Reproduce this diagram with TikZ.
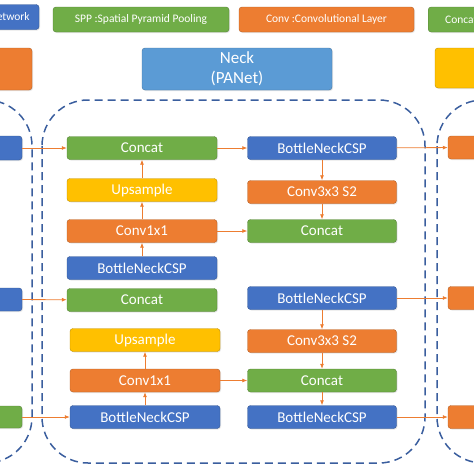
\documentclass[tikz,border=0pt]{standalone}
\usepackage{fontspec}
\setmainfont{Carlito}
\usepackage{tikz}
\usetikzlibrary{arrows.meta,shadows,positioning}
\definecolor{cblue}{HTML}{4472C4}
\definecolor{cgreen}{HTML}{70AD47}
\definecolor{corange}{HTML}{ED7D31}
\definecolor{cyellow}{HTML}{FFC000}
\definecolor{cneck}{HTML}{5B9BD5}
\definecolor{cdash}{HTML}{3A5E9E}
\tikzset{
	box/.style={draw=#1!75!black, fill=#1, rounded corners=3pt, text=white, inner sep=0pt, minimum height=23pt, font=\fontsize{15}{18}\selectfont, drop shadow={opacity=0.2,shadow xshift=1pt,shadow yshift=-1pt}},
	leftbox/.style={box=#1, minimum width=150pt},
	rightbox/.style={box=#1, minimum width=149pt},
	legend/.style={box=#1, minimum height=25pt, font=\fontsize{11.5}{14}\selectfont},
	region/.style={draw=cdash, line width=1.5pt, dash pattern=on 8pt off 5pt, rounded corners=46pt},
	flow/.style={draw=corange, line width=0.8pt, -{Latex[length=5pt,width=4pt]}}
}

\begin{document}
\begin{tikzpicture}[x=1pt,y=-1pt]
		\useasboundingbox (0,0) rectangle (474,474);
		\clip (0,0) rectangle (474,474);
		
		\node[legend=cblue, minimum width=59pt] (lgnet) at (9.5,17) {Network};
		\node[legend=cgreen, minimum width=176pt] (lgspp) at (141,19.5) {SPP :Spatial Pyramid Pooling};
		\node[legend=corange, minimum width=175pt] (lgconv) at (326.5,19.5) {Conv :Convolutional Layer};
		\node[legend=cgreen, anchor=west, text width=80pt, align=left, inner xsep=17pt] (lgcat) at (428,19.5) {Concat};
		
		\node[box=corange, minimum width=62pt, minimum height=42pt] (backbone) at (1,69) {};
		\node[box=cneck, minimum width=190pt, minimum height=42pt, align=center, font=\fontsize{17}{20}\selectfont] (neck) at (237,69) {Neck\\(PANet)};
		\node[box=cyellow, minimum width=65pt, minimum height=40pt] (head) at (467.5,68) {};
		
		\draw[region] (-100,100) rectangle (32,463);
		\draw[region] (42,100) rectangle (425,463);
		\draw[region] (437,100) rectangle (600,463);
		
		\node[box=cblue, minimum width=32pt, minimum height=24pt] (inA) at (6,148) {};
		\node[box=cblue, minimum width=32pt, minimum height=23pt] (inB) at (6,299.5) {};
		\node[box=cgreen, minimum width=32pt, minimum height=22pt] (inC) at (6,417) {};
		
		\node[leftbox=cgreen] (catA) at (142,148) {Concat};
		\node[leftbox=cyellow] (upA) at (142,190) {Upsample};
		\node[leftbox=corange] (convA) at (142,231) {Conv1x1};
		\node[leftbox=cblue] (cspA) at (142,268) {BottleNeckCSP};
		\node[leftbox=cgreen] (catB) at (142,300) {Concat};
		\node[leftbox=cyellow] (upB) at (145,340) {Upsample};
		\node[leftbox=corange] (convB) at (145,380.5) {Conv1x1};
		\node[leftbox=cblue] (cspB) at (145,417) {BottleNeckCSP};
		
		\node[rightbox=cblue] (cspC) at (322,148) {BottleNeckCSP};
		\node[rightbox=corange] (downA) at (322,192) {Conv3x3 S2};
		\node[rightbox=cgreen] (catC) at (322,231) {Concat};
		\node[rightbox=cblue] (cspD) at (322,298) {BottleNeckCSP};
		\node[rightbox=corange] (downB) at (322,341) {Conv3x3 S2};
		\node[rightbox=cgreen] (catD) at (322,380.5) {Concat};
		\node[rightbox=cblue] (cspE) at (322,417) {BottleNeckCSP};
		
		\node[box=corange, minimum width=44pt] (outA) at (470,147.5) {};
		\node[box=corange, minimum width=44pt] (outB) at (470,298) {};
		\node[box=corange, minimum width=44pt] (outC) at (470,417) {};
		
		\draw[flow] (inA) -- (catA);
		\draw[flow] (inB) -- (catB);
		\draw[flow] (inC) -- (cspB);
		
		\draw[flow] (cspA) -- (convA);
		\draw[flow] (convA) -- (upA);
		\draw[flow] (upA) -- (catA);
		\draw[flow] (cspB) -- (convB);
		\draw[flow] (convB) -- (upB);
		
		\draw[flow] (catA) -- (cspC);
		\draw[flow] (convA) -- (catC);
		\draw[flow] (convB) -- (catD);
		
		\draw[flow] (cspC) -- (downA);
		\draw[flow] (downA) -- (catC);
		\draw[flow] (cspD) -- (downB);
		\draw[flow] (downB) -- (catD);
		\draw[flow] (catD) -- (cspE);
		
		\draw[flow] (cspC) -- (outA);
		\draw[flow] (cspD) -- (outB);
		\draw[flow] (cspE) -- (outC);
		
	\end{tikzpicture}
\end{document}
